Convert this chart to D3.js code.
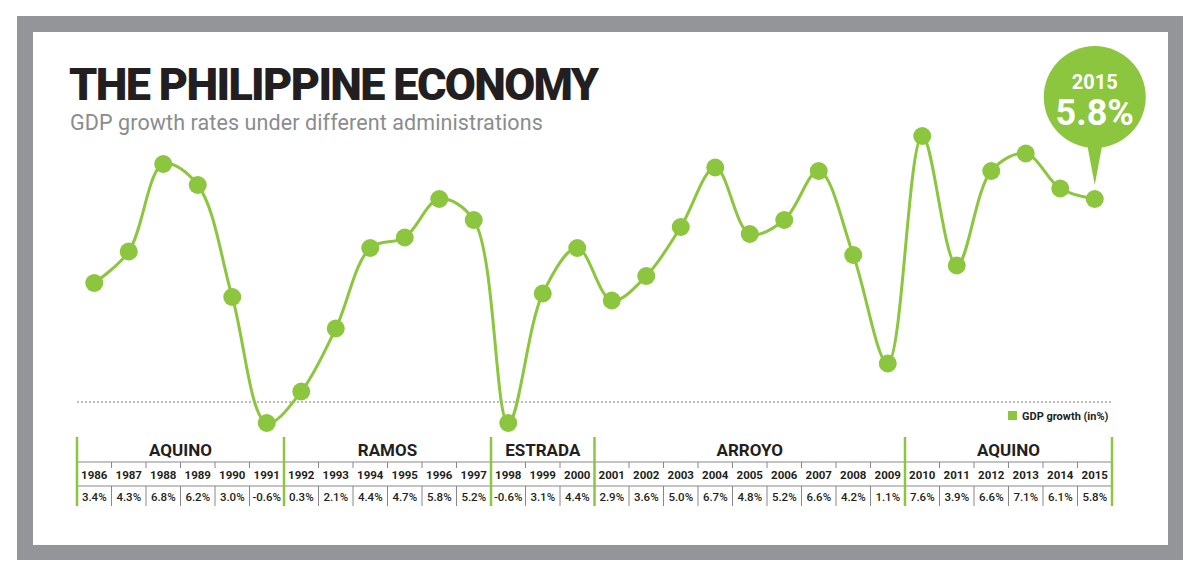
<!DOCTYPE html>
<html><head><meta charset="utf-8">
<script src="https://cdn.jsdelivr.net/npm/d3@7"></script>
<style>body{margin:0;background:#fff}svg{display:block}</style>
</head><body><svg id="c" width="1200" height="580"></svg>
<script>
const years = d3.range(1986, 2016);
const growth = [3.4,4.3,6.8,6.2,3.0,-0.6,0.3,2.1,4.4,4.7,5.8,5.2,-0.6,3.1,4.4,2.9,3.6,5.0,6.7,4.8,5.2,6.6,4.2,1.1,7.6,3.9,6.6,7.1,6.1,5.8];
const admins = [{name:"AQUINO",from:1986,to:1991},{name:"RAMOS",from:1992,to:1997},{name:"ESTRADA",from:1998,to:2000},{name:"ARROYO",from:2001,to:2009},{name:"AQUINO",from:2010,to:2015}];
const green = "#8cc63f";
const svg = d3.select("#c");
svg.append("rect").attr("x",17).attr("y",16).attr("width",1166).attr("height",544).attr("fill","#939598");
svg.append("rect").attr("x",33).attr("y",32).attr("width",1135).attr("height",513).attr("fill","#fff");
svg.append("text").attr("x",69).attr("y",100).text("THE PHILIPPINE ECONOMY")
  .attr("font-family","Roboto").attr("font-weight",900).attr("font-size",45).attr("letter-spacing",-1.65).attr("fill","#231f20");
svg.append("text").attr("x",70).attr("y",130).text("GDP growth rates under different administrations")
  .attr("font-family","Roboto").attr("font-size",21.5).attr("letter-spacing",0.1).attr("fill","#8a8c8e");

const band = d3.scaleBand().domain(years).range([77,1112]);
const x = d => band(d)+band.bandwidth()/2;
const y = d3.scaleLinear().domain([0,7.6]).range([402,136]);
svg.append("line").attr("x1",77).attr("x2",1112).attr("y1",y(0)).attr("y2",y(0))
  .attr("stroke","#555").attr("stroke-dasharray","2,2").attr("stroke-width",0.8);
const pts = years.map((yr,i)=>[x(yr),y(growth[i])]);
svg.append("path").attr("d",d3.line().curve(d3.curveCatmullRom.alpha(0.5))(pts))
  .attr("fill","none").attr("stroke",green).attr("stroke-width",3);
svg.selectAll("circle.d").data(pts).join("circle").attr("cx",d=>d[0]).attr("cy",d=>d[1]).attr("r",9).attr("fill",green);

const last = pts[pts.length-1];
const bx = last[0], by = 97;
svg.append("path").attr("d",`M${bx-9},${by+40} L${bx},${last[1]-14} L${bx+9},${by+40}Z`).attr("fill",green);
svg.append("circle").attr("cx",bx).attr("cy",by).attr("r",51).attr("fill",green);
svg.append("text").attr("x",bx).attr("y",by-8).attr("text-anchor","middle").text(years[years.length-1])
  .attr("font-family","Roboto").attr("font-weight",700).attr("font-size",20).attr("fill","#fff");
svg.append("text").attr("x",bx).attr("y",by+28).attr("text-anchor","middle").text(growth[growth.length-1].toFixed(1)+"%")
  .attr("font-family","Roboto").attr("font-weight",700).attr("font-size",36).attr("fill","#fff");

svg.append("rect").attr("x",1008).attr("y",411).attr("width",9).attr("height",9).attr("fill",green);
svg.append("text").attr("x",1022).attr("y",420).text("GDP growth (in%)")
  .attr("font-family","Roboto").attr("font-weight",700).attr("font-size",11).attr("fill","#231f20");

const f = "Roboto";
const t1=437,t2=462,t3=486,t4=506;
svg.append("line").attr("x1",77).attr("x2",1112).attr("y1",t2).attr("y2",t2).attr("stroke","#888").attr("stroke-width",1);
svg.append("line").attr("x1",77).attr("x2",1112).attr("y1",t3).attr("y2",t3).attr("stroke","#888").attr("stroke-width",1);
years.forEach((yr,i)=>{
  const b=band(yr);
  if(i>0){
    svg.append("line").attr("x1",b).attr("x2",b).attr("y1",t2).attr("y2",t2+6).attr("stroke","#888");
    svg.append("line").attr("x1",b).attr("x2",b).attr("y1",t3).attr("y2",t4).attr("stroke","#888");
  }
  svg.append("text").attr("x",x(yr)).attr("y",479).attr("text-anchor","middle").text(yr)
    .attr("font-family",f).attr("font-weight",700).attr("font-size",11.5).attr("fill","#231f20");
  svg.append("text").attr("x",x(yr)).attr("y",501).attr("text-anchor","middle").text(growth[i].toFixed(1)+"%")
    .attr("font-family",f).attr("font-size",11.5).attr("font-weight",500).attr("fill","#231f20");
});
admins.forEach(a=>{
  const x0=band(a.from), x1=band(a.to)+band.bandwidth();
  svg.append("text").attr("x",(x0+x1)/2).attr("y",456).attr("text-anchor","middle").text(a.name)
    .attr("font-family",f).attr("font-weight",700).attr("font-size",17).attr("fill","#231f20");
  svg.append("line").attr("x1",x0).attr("x2",x0).attr("y1",t1).attr("y2",t4).attr("stroke",green).attr("stroke-width",2.5);
});
svg.append("line").attr("x1",1112).attr("x2",1112).attr("y1",t1).attr("y2",t4).attr("stroke",green).attr("stroke-width",2.5);
</script></body></html>
